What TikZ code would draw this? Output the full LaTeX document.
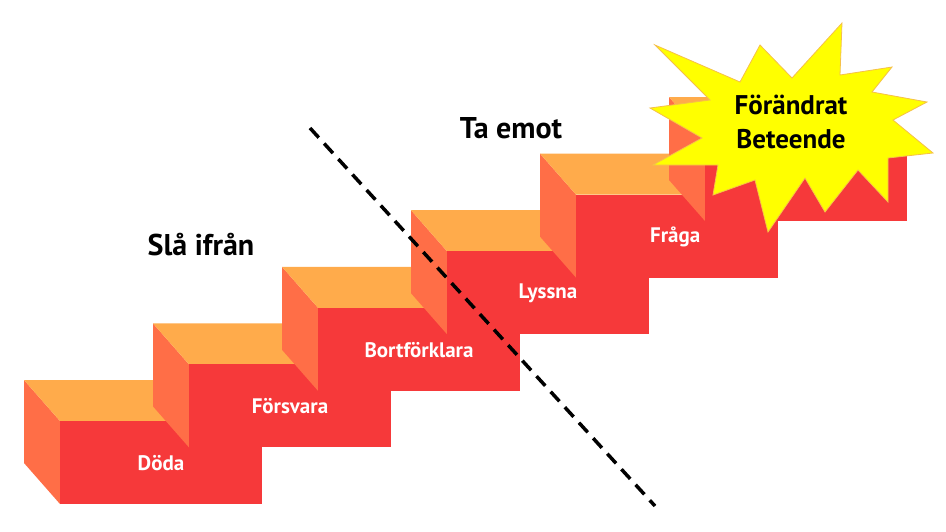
\documentclass[tikz,border=0pt]{standalone}
\usepackage{fontspec}
\setmainfont{PT Sans}
\definecolor{frontc}{HTML}{F6393A}
\definecolor{topc}{HTML}{FFAB4B}
\definecolor{sidec}{HTML}{FF6E47}
\definecolor{staryel}{HTML}{FFFF00}
\definecolor{starline}{HTML}{F5C04A}
\tikzset{
  frontface/.style={fill=frontc},
  topface/.style={fill=topc},
  sideface/.style={fill=sidec},
  steplabel/.style={text=white,font=\bfseries\fontsize{21}{24}\selectfont},
  titlelabel/.style={text=black,font=\bfseries\fontsize{30}{34}\selectfont},
  divider/.style={line width=3.5pt,dash pattern=on 13pt off 8pt}
}
\begin{document}
\begin{tikzpicture}[x=1pt,y=-1pt]
\useasboundingbox (0,0) rectangle (946,531);
\foreach \i/\lab in {0/Döda,1/Försvara,2/Bortförklara,3/Lyssna,4/Fråga\,/\,förstå,5/{}}{
  \pgfmathsetmacro{\bx}{24+129*\i}
  \pgfmathsetmacro{\by}{380-56.6*\i}
  \fill[sideface] (\bx,\by) -- (\bx+36,\by+41) -- (\bx+36,\by+124) -- (\bx,\by+83) -- cycle;
  \fill[topface] (\bx,\by) -- (\bx+131,\by) -- (\bx+167,\by+41) -- (\bx+36,\by+41) -- cycle;
  \fill[frontface] (\bx+36,\by+41) rectangle (\bx+238,\by+124);
  \node[steplabel] (s\i) at (\bx+137,\by+83) {\lab};
}
\node[titlelabel] (slaa) at (201,245) {Slå ifrån};
\node[titlelabel] (taemot) at (511,128) {Ta emot};
\coordinate (d1) at (310,128);
\coordinate (d2) at (655,506);
\draw[divider] (d1) -- (d2);
\fill[staryel,draw=starline,line width=0.8pt]
 (655,45) -- (740,82) -- (760,45) -- (792,78) -- (842,23) -- (840,75) --
 (892,67) -- (872,92) -- (927,102) -- (893,120) -- (933,153) -- (888,158) --
 (888,202) -- (858,170) -- (825,212) -- (805,178) -- (768,232) -- (755,180) --
 (713,195) -- (718,165) -- (653,165) -- (702,138) -- (650,108) -- (710,100) -- cycle;
\node[text=black,font=\bfseries\fontsize{27}{34}\selectfont,align=center] (star) at (791,122) {Förändrat\\Beteende};
\end{tikzpicture}
\end{document}
